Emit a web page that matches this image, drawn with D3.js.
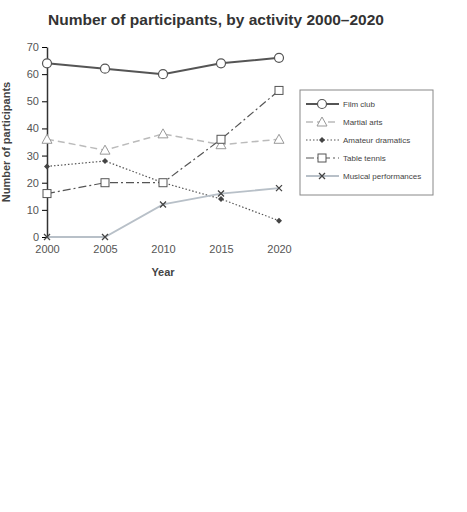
<!DOCTYPE html><html><head><script src="https://cdn.jsdelivr.net/npm/d3@7"></script>
<style>body{margin:0;background:#fff;font-family:"Liberation Sans",Arial,sans-serif}</style></head><body><svg id="c" width="467" height="512"></svg>
<script>
const years=[2000,2005,2010,2015,2020];
const filmClub=[64,62,60,64,66];
const martialArts=[36,32,38,34,36];
const amateurDramatics=[26,28,20,14,6];
const tableTennis=[16,20,20,36,54];
const musical=[0,0,12,16,18];
const yTicks=[0,10,20,30,40,50,60,70];
const series=[
 {name:"Film club",v:filmClub,color:"#555",dash:null,w:2,m:"circle"},
 {name:"Martial arts",v:martialArts,color:"#bbb",dash:"7,4",w:1.5,m:"triangle"},
 {name:"Amateur dramatics",v:amateurDramatics,color:"#555",dash:"1.5,2",w:1.2,m:"diamond"},
 {name:"Table tennis",v:tableTennis,color:"#555",dash:"8,3,2,3",w:1.2,m:"square"},
 {name:"Musical performances",v:musical,color:"#b8c0c8",dash:null,w:1.8,m:"cross"}];
const svg=d3.select("#c");
const x=d3.scaleLinear().domain([2000,2020]).range([47,279]);
const y=d3.scaleLinear().domain([0,70]).range([237,47]);
svg.append("text").attr("x",216).attr("y",25).attr("text-anchor","middle").attr("font-size",15.5).attr("font-weight","bold").attr("fill","#333").text("Number of participants, by activity 2000–2020");
const ya=svg.append("g").attr("transform","translate(47,0)").call(d3.axisLeft(y).tickValues(yTicks).tickSize(5).tickSizeOuter(0));
ya.select(".domain").attr("stroke","#333").attr("stroke-width",1.5);
ya.selectAll("text").attr("font-size",11).attr("fill","#555");
const xa=svg.append("g").attr("transform","translate(0,237)").call(d3.axisBottom(x).tickValues(years).tickFormat(d3.format("d")).tickSize(0).tickPadding(8));
xa.select(".domain").remove();
xa.selectAll("text").attr("font-size",11).attr("fill","#555");
svg.append("text").attr("x",163).attr("y",276).attr("text-anchor","middle").attr("font-size",11).attr("font-weight","bold").attr("fill","#444").text("Year");
svg.append("text").attr("transform","translate(10,142) rotate(-90)").attr("text-anchor","middle").attr("font-size",11).attr("font-weight","bold").attr("fill","#444").text("Number of participants");
function marker(g,m,color){
 if(m==="circle")g.append("circle").attr("r",4.5).attr("fill","#fff").attr("stroke",color).attr("stroke-width",1.2);
 else if(m==="triangle")g.append("path").attr("d","M0,-5L5,4L-5,4Z").attr("fill","#fff").attr("stroke","#999");
 else if(m==="diamond")g.append("path").attr("d","M0,-3L3,0L0,3L-3,0Z").attr("fill","#444");
 else if(m==="square")g.append("rect").attr("x",-4).attr("y",-4).attr("width",8).attr("height",8).attr("fill","#fff").attr("stroke","#555");
 else g.append("path").attr("d","M-3,-3L3,3M-3,3L3,-3").attr("stroke","#444").attr("stroke-width",1.3);
}
const line=d3.line().x((d,i)=>x(years[i])).y(d=>y(d));
series.forEach(s=>{
 svg.append("path").attr("d",line(s.v)).attr("fill","none").attr("stroke",s.color).attr("stroke-width",s.w).attr("stroke-dasharray",s.dash);
 s.v.forEach((d,i)=>marker(svg.append("g").attr("transform",`translate(${x(years[i])},${y(d)})`),s.m,s.color));
});
const lg=svg.append("g");
lg.append("rect").attr("x",300).attr("y",90).attr("width",133).attr("height",105).attr("fill","#fff").attr("stroke","#888");
series.forEach((s,i)=>{
 const yy=104+i*18;
 lg.append("line").attr("x1",306).attr("x2",339).attr("y1",yy).attr("y2",yy).attr("stroke",s.color).attr("stroke-width",s.w).attr("stroke-dasharray",s.dash);
 marker(lg.append("g").attr("transform",`translate(322,${yy})`),s.m,s.color);
 lg.append("text").attr("x",343).attr("y",yy+3).attr("font-size",8).attr("fill","#444").text(s.name);
});
</script></body></html>
